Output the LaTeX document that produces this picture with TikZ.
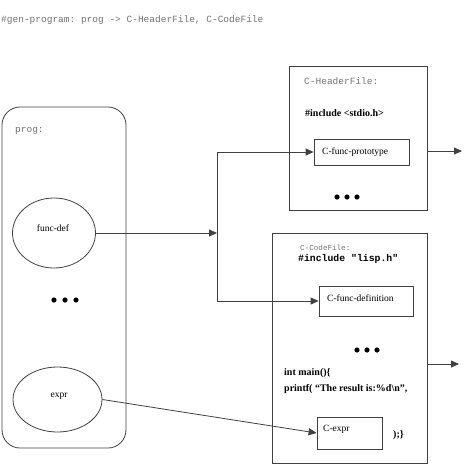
\documentclass[tikz,border=0pt]{standalone}
\usepackage{fontspec}
\setmainfont{Liberation Serif}
\setmonofont{Liberation Mono}
\usetikzlibrary{arrows.meta,shapes.geometric}
\definecolor{ln}{gray}{0.25}
\definecolor{ttc}{gray}{0.45}
\begin{document}
\begin{tikzpicture}[x=1pt,y=-1pt,
  line/.style={draw=ln, line width=0.8pt},
  arr/.style={line, -{Triangle[length=8pt,width=7pt]}},
  box/.style={draw=ln, line width=0.8pt, rectangle, inner sep=0},
  ell/.style={draw=ln, line width=0.8pt, ellipse, inner sep=0},
  lbl/.style={font=\fontsize{9.5}{11}\selectfont, inner sep=0, anchor=west},
  code/.style={font=\fontsize{9.5}{11}\selectfont\ttfamily, text=ttc, inner sep=0, anchor=west},
  bold/.style={font=\fontsize{10}{12}\selectfont\bfseries, inner sep=0, anchor=west},
  dot/.style={fill=black}]
\useasboundingbox (0,0) rectangle (474,474);

% title
\node[code] (title) at (1,20) {\#gen-program: prog -> C-HeaderFile, C-CodeFile};

% prog box
\node[box, minimum width=124pt, minimum height=341pt, rounded corners=18pt] (prog) at (64,277.5) {};
\node[code] (progl) at (15,131) {prog:};
\node[ell, minimum width=83pt, minimum height=70pt] (funcdef) at (54,233) {};
\node[lbl, anchor=center] (funcdefl) at (53,228) {func-def};
\node[ell, minimum width=89pt, minimum height=65pt] (expr) at (57.5,399.5) {};
\node[lbl, anchor=center] (exprl) at (59,396) {expr};
\foreach \x in {54,65,76} \fill[dot] (\x,300) circle (2.6pt);

% header file box
\node[box, minimum width=138pt, minimum height=144pt] (hdr) at (358,138) {};
\node[code] (hdrl) at (304,81) {C-HeaderFile:};
\node[bold] (incl1) at (305,113) {\#include <stdio.h>};
\node[box, minimum width=95pt, minimum height=26pt] (proto) at (361.5,152) {};
\node[lbl] (protol) at (322,152) {C-func-prototype};
\foreach \x in {337,347,357} \fill[dot] (\x,197) circle (2.6pt);

% code file box
\node[box, minimum width=155pt, minimum height=230pt] (code) at (349.5,348) {};
\node[code, font=\fontsize{7.6}{9}\selectfont\ttfamily] (codel) at (300,248) {C-CodeFile:};
\node[code, text=black, font=\fontsize{9.8}{11}\selectfont\ttfamily\bfseries] (incl2) at (298,259) {\#include "lisp.h"};
\node[box, minimum width=94pt, minimum height=30pt] (cdef) at (366,301) {};
\node[lbl] (cdefl) at (327,298) {C-func-definition};
\foreach \x in {357,367,377} \fill[dot] (\x,350) circle (2.6pt);
\node[bold] (mainl) at (284,373) {int main()\{};
\node[bold] (printfl) at (284,389) {printf( “The result is:\%d\textbackslash n”,};
\node[box, minimum width=65pt, minimum height=32pt] (cexpr) at (349.5,433) {};
\node[lbl] (cexprl) at (323,429) {C-expr};
\node[bold] (close) at (393,435) {);\}};

% connectors
\coordinate (jm) at (217,233);
\coordinate (jt) at (proto.west -| jm);
\coordinate (jb) at (cdef.west -| jm);
\draw[arr] (funcdef.east) -- (jm);
\draw[line] (jt) -- (jb);
\draw[arr] (jt) -- (proto.west);
\draw[arr] (jb) -- (cdef.west);
\draw[arr] (expr.east) -- (cexpr.west);
\coordinate (ho) at (462,151);
\coordinate (co) at (459,364);
\draw[arr] (ho -| hdr.east) -- (ho);
\draw[arr] (co -| code.east) -- (co);
\end{tikzpicture}
\end{document}
